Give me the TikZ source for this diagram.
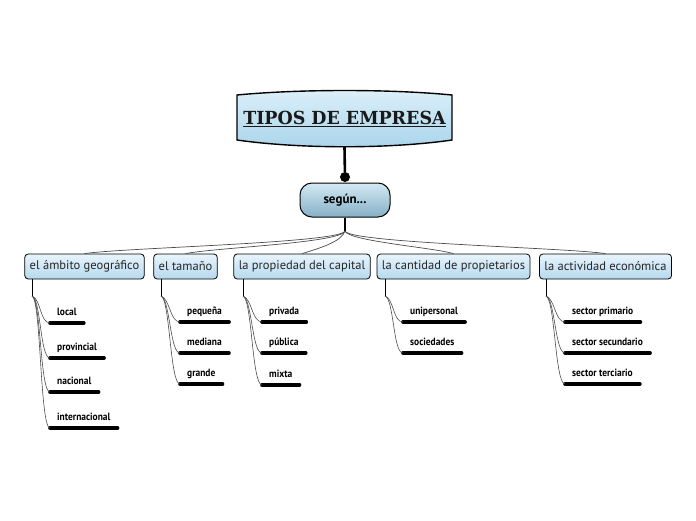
\documentclass[tikz,border=0pt]{standalone}
\usepackage{fontspec}
\setmainfont{PT Sans}
\newfontfamily\catfont{PT Sans}
\newfontfamily\itemfont[FakeStretch=0.9]{PT Sans}
\newfontfamily\titlefont[FakeStretch=0.97]{DejaVu Serif}
\definecolor{tTop}{HTML}{DCF0FA}
\definecolor{tBot}{HTML}{A9D4EA}
\definecolor{sTop}{HTML}{D3E9F4}
\definecolor{sBot}{HTML}{86B0C6}
\definecolor{cTop}{HTML}{E8F4FC}
\definecolor{cBot}{HTML}{B6D9EE}
\begin{document}
\begin{tikzpicture}[x=1pt,y=-1pt,
  cat/.style={draw=black, rounded corners=3.5pt, top color=cTop, bottom color=cBot,
    font=\catfont\fontsize{12.5}{14}\selectfont, text=black!85, minimum height=25pt,
    inner xsep=5pt, line width=0.8pt},
  item/.style={anchor=south west, inner xsep=7pt, inner ysep=5pt, text height=7.5pt,
    text depth=2pt, font=\itemfont\bfseries\fontsize{10.5}{12}\selectfont},
  ul/.style={line width=3.6pt, line cap=round},
  fanline/.style={draw=black!70, line width=0.7pt},
  subline/.style={draw=black!70, line width=0.6pt},
  stem/.style={draw=black, line width=0.8pt}]
\useasboundingbox (0,0) rectangle (696,520);

% title
\shade[top color=tTop, bottom color=tBot, draw=black, line width=1.4pt]
  (237,95) .. controls (300,89) and (390,89) .. (452,95) -- (452,140)
  .. controls (390,149) and (300,149) .. (237,140) -- cycle;
\node[minimum width=215pt, minimum height=56pt, font=\titlefont\bfseries\fontsize{18}{20}\selectfont, text=black!90]
  (title) at (344.5,119) {\underline{TIPOS DE EMPRESA}};

% dot and según
\node[circle, fill=black, inner sep=0pt, minimum size=10pt] (dot) at (345,177) {};
\draw[line width=2.6pt] (title.south) -- (dot);
\node[draw=black, line width=1pt, rounded corners=12pt, top color=sTop, bottom color=sBot,
  minimum width=90pt, minimum height=34pt, font=\bfseries\fontsize{13}{15}\selectfont]
  (segun) at (345,200) {según...};
\coordinate (fan) at (345,231);
\draw[line width=1.2pt] (segun.south) -- (fan);

% categories
\node[cat] (c1) at (84.5,266.5) {el ámbito geográfico};
\node[cat] (c2) at (185.5,266.5) {el tamaño};
\node[cat] (c3) at (302,266.5) {la propiedad del capital};
\node[cat] (c4) at (453.5,266.5) {la cantidad de propietarios};
\node[cat] (c5) at (605.5,266.5) {la actividad económica};

\draw[fanline] (fan) .. controls +(-4,12) and +(40,-6) .. (c1.north);
\draw[fanline] (fan) .. controls +(-4,12) and +(30,-6) .. (c2.north);
\draw[fanline] (fan) .. controls +(-3,10) and +(20,-6) .. (c3.north);
\draw[fanline] (fan) .. controls +(3,10) and +(-20,-6) .. (c4.north);
\draw[fanline] (fan) .. controls +(4,12) and +(-40,-6) .. (c5.north);

% hooks
\coordinate (h1) at (32,296);
\coordinate (h2) at (161,296);
\coordinate (h3) at (243,296);
\coordinate (h4) at (385,296);
\coordinate (h5) at (546,296);
\draw[stem] (c1.south west -| h1) -- (h1);
\draw[stem] (c2.south west -| h2) -- (h2);
\draw[stem] (c3.south west -| h3) -- (h3);
\draw[stem] (c4.south west -| h4) -- (h4);
\draw[stem] (c5.south west -| h5) -- (h5);

% items group 1
\node[item] (i11) at (50,323) {local};
\node[item] (i12) at (50,358) {provincial};
\node[item] (i13) at (50,392) {nacional};
\node[item] (i14) at (50,428) {internacional};
% group 2
\node[item] (i21) at (180,322) {pequeña};
\node[item] (i22) at (180,353) {mediana};
\node[item] (i23) at (180,384) {grande};
% group 3
\node[item] (i31) at (262,322) {privada};
\node[item] (i32) at (262,353) {pública};
\node[item] (i33) at (262,385) {mixta};
% group 4
\node[item] (i41) at (403,322) {unipersonal};
\node[item] (i42) at (403,353) {sociedades};
% group 5
\node[item] (i51) at (565,322) {sector primario};
\node[item] (i52) at (565,353) {sector secundario};
\node[item] (i53) at (565,384) {sector terciario};

\foreach \n in {i11,i12,i13,i14,i21,i22,i23,i31,i32,i33,i41,i42,i51,i52,i53}
  \draw[ul] (\n.south west) -- (\n.south east);

\foreach \h/\n in {h1/i11,h1/i12,h1/i13,h1/i14,h2/i21,h2/i22,h2/i23,h3/i31,h3/i32,h3/i33,h4/i41,h4/i42,h5/i51,h5/i52,h5/i53}
  \draw[subline] (\h) .. controls +(9,3) and +(-10,0) .. (\n.south west);
\end{tikzpicture}
\end{document}
